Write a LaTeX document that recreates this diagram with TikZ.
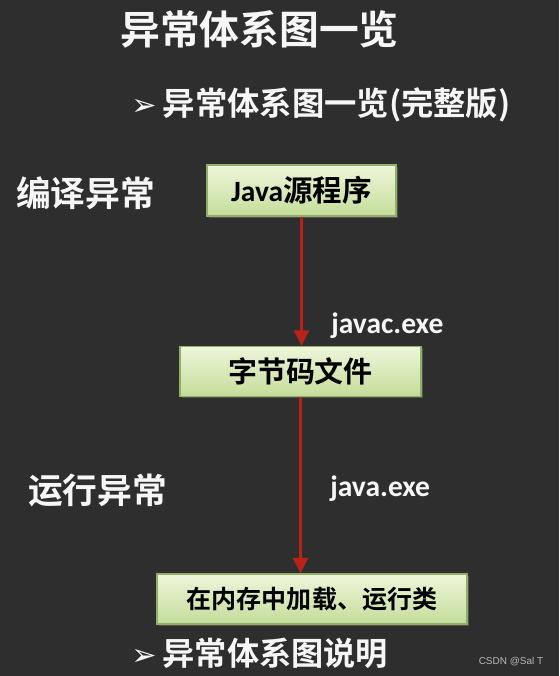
\documentclass[tikz,border=0pt]{standalone}
\usepackage{fontspec}
\usetikzlibrary{arrows.meta,shadows}
\setmainfont{Noto Sans CJK SC}[BoldFont=* Bold]
\newfontfamily\latfont{Carlito}
\newfontfamily\symfont{DejaVu Sans}
\newfontfamily\markfont{Liberation Sans}

\definecolor{board}{HTML}{2E2E2E}
\definecolor{chalk}{HTML}{F6F6F6}
\definecolor{boxtop}{HTML}{EEF5DA}
\definecolor{boxbot}{HTML}{C4DD9A}
\definecolor{boxline}{HTML}{93AE66}
\definecolor{flowred}{HTML}{B8221A}

\tikzset{
  chalktext/.style={text=chalk, inner sep=0pt, font=\bfseries},
  stepbox/.style={draw=boxline, line width=0.8pt, top color=boxtop, bottom color=boxbot,
    inner sep=0pt, text=black, font=\bfseries,
    drop shadow={opacity=0.45, shadow xshift=1.2pt, shadow yshift=-1.2pt}},
  flow/.style={draw=flowred, line width=2.1pt, -{Triangle[width=10.5pt,length=11pt]}},
  toolname/.style={text=chalk, inner sep=0pt, font=\latfont\bfseries\fontsize{21}{23}\selectfont},
}

\begin{document}
\begin{tikzpicture}[x=0.025cm, y=-0.025cm]
    \fill[board] (0,0) rectangle (559,676);
    \useasboundingbox (0,0) rectangle (559,676);

    % headings
    \node[chalktext, font=\bfseries\fontsize{28.3}{31}\selectfont] (title) at (259.5,29) {异常体系图一览};
    \node[chalktext, anchor=west, font=\bfseries\fontsize{23}{26}\selectfont] (overview) at (131,105)
        {{\symfont\fontsize{21.5}{22}\selectfont ➢}\hspace{4.3pt}异常体系图一览(完整版)};
    \node[chalktext, font=\bfseries\fontsize{24.7}{27}\selectfont] (compile) at (85.5,193) {编译异常};
    \node[chalktext, font=\bfseries\fontsize{24.7}{27}\selectfont] (runtime) at (97.5,490) {运行异常};

    % the three steps
    \node[stepbox, minimum width=4.725cm, minimum height=1.275cm, font=\bfseries\fontsize{21}{23}\selectfont]
        (source) at (301.5,190.5) {{\latfont Java}源程序};
    \node[stepbox, minimum width=6.025cm, minimum height=1.25cm, font=\bfseries\fontsize{20.6}{23}\selectfont]
        (bytecode) at (300.5,371.5) {字节码文件};
    \node[stepbox, minimum width=7.75cm, minimum height=1.25cm, font=\bfseries\fontsize{17.8}{20}\selectfont]
        (load) at (312,599) {在内存中加载、运行类};

    \draw[flow] (source.south) -- (source.south |- bytecode.north);
    \draw[flow] (bytecode.south) -- (bytecode.south |- load.north);

    \node[toolname, anchor=base west] (javac) at (331,333) {javac.exe};
    \node[toolname, anchor=base west] (java) at (330,496) {java.exe};

    \node[chalktext, anchor=west, font=\bfseries\fontsize{22.9}{26}\selectfont] (notes) at (131,653)
        {{\symfont\fontsize{21.5}{22}\selectfont ➢}\hspace{4.3pt}异常体系图说明};
    \node[inner sep=0pt, text=gray!55, font=\markfont\fontsize{7.1}{8}\selectfont] (mark) at (511,662) {CSDN @Sal T};
\end{tikzpicture}
\end{document}
